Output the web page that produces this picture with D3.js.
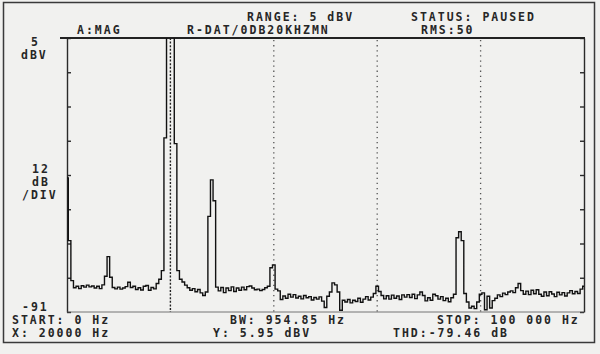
<!DOCTYPE html>
<html>
<head>
<meta charset="utf-8">
<script src="https://cdn.jsdelivr.net/npm/d3@7"></script>
<style>
  html, body { margin: 0; padding: 0; background: #f1f1ef; }
  svg { display: block; }
  text { font-family: "DejaVu Sans Mono", monospace; font-size: 11.5px; font-weight: bold; letter-spacing: 2px; fill: #262626; }
</style>
</head>
<body>
<figure id="analyzer" style="margin:0"></figure>
<script>
let widthFigure = 600;
let heightFigure = 354;

// analyzer settings
let startHz = 0;
let stopHz = 100000;
let binHz = 500;
let markerHz = 20000;
let topDb = 5;
let bottomDb = -91;
let dbPerDiv = 12;
let gridHz = [40000, 60000, 80000];

// header / footer readouts
let headerTexts = [
    {t: 'RANGE: 5 dBV', x: 247, y: 21},
    {t: 'STATUS: PAUSED', x: 411, y: 21},
    {t: 'A:MAG', x: 77, y: 34},
    {t: 'R-DAT/0DB20KHZMN', x: 187, y: 34},
    {t: 'RMS:50', x: 421, y: 34}
];
let footerTexts = [
    {t: 'START: 0 Hz', x: 12, y: 324},
    {t: 'BW: 954.85 Hz', x: 230, y: 324},
    {t: 'STOP: 100 000 Hz', x: 437, y: 324},
    {t: 'X: 20000 Hz', x: 12, y: 337},
    {t: 'Y: 5.95 dBV', x: 213, y: 337},
    {t: 'THD:-79.46 dB', x: 393, y: 337}
];
let unitLabels = ['dBV'];
let scaleLabels = ['12', 'dB', '/DIV'];

// magnitude per 500 Hz bin, dBV (0 .. 100 kHz)
let levels = [
    -44, -66, -80, -82.5, -82, -82.8, -81.8, -82.3, -81.6, -82.2,
    -81.9, -82.6, -82, -82.8, -81.5, -78.5, -71.6, -78.8, -82.4, -82.9,
    -82.3, -83, -82.6, -82.1, -80.6, -82.4, -82, -83.1, -82.5, -83.3,
    -82, -81.7, -83.4, -82.4, -82.9, -81, -79.5, -76.5, -30, 5.2,
    5.95, 5.4, -32, -76.5, -79.5, -80.5, -81.6, -82.5, -83.4, -82.8,
    -83.9, -83.1, -84.3, -85.2, -84, -57.5, -44.7, -52, -82.3, -83.6,
    -82.4, -84.2, -82.6, -83.5, -82.2, -83.8, -82.6, -83.4, -82.3, -83.2,
    -82.1, -81.9, -82.6, -83.2, -83, -83.5, -83.1, -82.5, -82, -75.5,
    -74.5, -83, -83.6, -86.6, -85.4, -86.2, -84.8, -85.8, -84.9, -86.1,
    -85.5, -86.4, -85.2, -86, -85.6, -86.8, -85.9, -86.5, -85.7, -87.2,
    -89.4, -85.5, -84, -80.8, -81.5, -84, -90.4, -86.9, -87.5, -86.6,
    -87.8, -86.9, -87.3, -86.2, -87.6, -86.5, -85.6, -86.8, -85.8, -84.5,
    -82, -83.8, -85.2, -86.4, -85.3, -86.5, -85.1, -86.2, -85.4, -86.6,
    -85, -85.8, -84.9, -85.9, -84.8, -86.3, -85, -84, -85.2, -87.1,
    -86, -86.9, -84.8, -85.3, -86.5, -85.6, -87, -86.2, -87.4, -86,
    -84.8, -65, -62.9, -66, -84.5, -87.5, -89.6, -89, -89.8, -87.5,
    -84.8, -84.3, -90.2, -85.5, -89.6, -87, -86.2, -85, -85.6, -84.4,
    -84.9, -84, -83.6, -84.2, -82.5, -81, -83.5, -84.8, -83.7, -84.9,
    -83.4, -84.6, -83.2, -84.8, -85.5, -84, -85.3, -83.9, -84.7, -85.6,
    -84.1, -85, -84.2, -85.4, -84.3, -83.5, -84.6, -83.8, -84.5, -83,
    -82
];

let plotLeft = 67, plotRight = 584, plotTop = 38, plotBottom = 312;

let xScale = d3.scaleLinear()
    .domain([startHz, stopHz])
    .range([plotLeft, plotRight]);

let yScale = d3.scaleLinear()
    .domain([bottomDb, topDb])
    .range([plotBottom, plotTop]);

let levelTicks = d3.range(bottomDb, topDb + 1, dbPerDiv);

let svg = d3.select('#analyzer')
    .append('svg')
    .attr('width', widthFigure)
    .attr('height', heightFigure);

svg.append('rect')
    .attr('width', widthFigure)
    .attr('height', heightFigure)
    .attr('fill', '#f1f1ef');

// outer frame of the screen
svg.append('rect')
    .attr('x', 3.5).attr('y', 2.5)
    .attr('width', 591).attr('height', 340)
    .attr('fill', 'none')
    .attr('stroke', '#3a3a3a')
    .attr('stroke-width', 1.5);

svg.append('defs').append('clipPath')
    .attr('id', 'plot-clip')
    .append('rect')
    .attr('x', plotLeft).attr('y', plotTop)
    .attr('width', plotRight - plotLeft).attr('height', plotBottom - plotTop);

// dotted frequency grid
svg.selectAll('line.grid')
    .data(gridHz)
    .enter()
    .append('line')
    .attr('class', 'grid')
    .attr('x1', d => xScale(d)).attr('x2', d => xScale(d))
    .attr('y1', plotTop + 2).attr('y2', plotBottom)
    .attr('stroke', '#555')
    .attr('stroke-width', 1.3)
    .attr('stroke-dasharray', '1.3 3.8');

// cursor
svg.append('line')
    .attr('x1', xScale(markerHz)).attr('x2', xScale(markerHz))
    .attr('y1', plotTop).attr('y2', plotBottom)
    .attr('stroke', '#222')
    .attr('stroke-width', 1.4)
    .attr('stroke-dasharray', '2 1.6');

// axes with inward ticks
svg.append('g')
    .attr('transform', `translate(${plotLeft},0)`)
    .call(d3.axisRight(yScale).tickValues(levelTicks).tickSize(4).tickSizeOuter(0).tickFormat(''))
    .call(g => g.selectAll('line, path').attr('stroke', '#2a2a2a').attr('stroke-width', 1.4));

svg.append('g')
    .attr('transform', `translate(${plotRight},0)`)
    .call(d3.axisLeft(yScale).tickValues(levelTicks).tickSize(4).tickSizeOuter(0).tickFormat(''))
    .call(g => g.selectAll('line, path').attr('stroke', '#2a2a2a').attr('stroke-width', 1.4));

svg.append('line')
    .attr('x1', 60).attr('x2', plotRight + 1)
    .attr('y1', plotTop).attr('y2', plotTop)
    .attr('stroke', '#222')
    .attr('stroke-width', 2);

svg.append('line')
    .attr('x1', plotLeft).attr('x2', plotRight)
    .attr('y1', plotBottom).attr('y2', plotBottom)
    .attr('stroke', '#555')
    .attr('stroke-width', 0.8);

// spectrum trace
let trace = d3.line()
    .x((d, i) => xScale(startHz + i * binHz))
    .y(d => yScale(d))
    .curve(d3.curveStep);

svg.append('path')
    .datum(levels)
    .attr('clip-path', 'url(#plot-clip)')
    .attr('d', trace)
    .attr('fill', 'none')
    .attr('stroke', '#111')
    .attr('stroke-width', 1.4)
    .attr('stroke-linejoin', 'miter');

// readouts
svg.selectAll('text.head')
    .data(headerTexts.concat(footerTexts))
    .enter()
    .append('text')
    .attr('x', d => d.x)
    .attr('y', d => d.y)
    .text(d => d.t);

// level labels on the left
svg.append('text').attr('x', 31).attr('y', 46).text(topDb);
svg.append('text').attr('x', 21).attr('y', 59).text(unitLabels[0]);
svg.append('text').attr('x', 22).attr('y', 311).text(bottomDb);

svg.selectAll('text.scale')
    .data(scaleLabels)
    .enter()
    .append('text')
    .attr('x', (d, i) => i == 2 ? 22 : 32)
    .attr('y', (d, i) => 173 + i * 13)
    .text(d => d);
</script>
</body>
</html>
